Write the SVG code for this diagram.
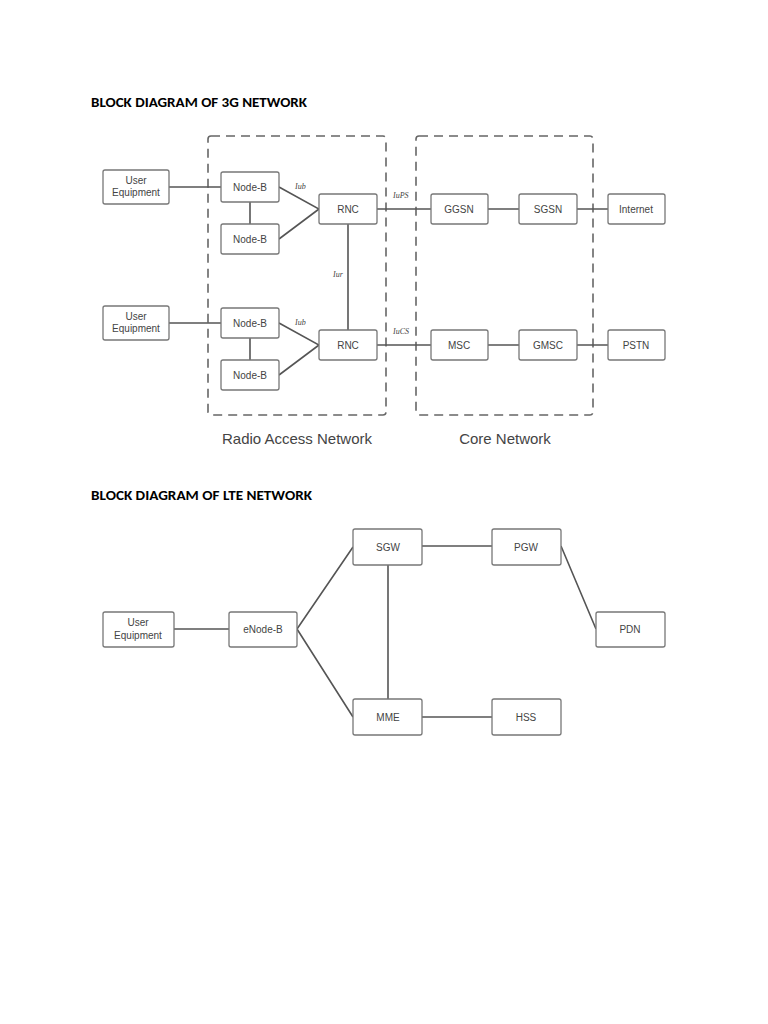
<svg xmlns="http://www.w3.org/2000/svg" width="768" height="1024" viewBox="0 0 768 1024">
<style>
.n{fill:#fff;stroke:#777;stroke-width:1.3}
.t{font-family:"Liberation Sans",Arial,sans-serif;font-size:10px;fill:#444;text-anchor:middle}
.c{stroke:#555;stroke-width:1.6;fill:none}
.d{fill:none;stroke:#666;stroke-width:1.6;stroke-dasharray:9,6}
.h{font-family:Carlito,"Liberation Sans",sans-serif;font-size:14.5px;font-weight:bold;fill:#000}
.i{font-family:"Liberation Serif",serif;font-style:italic;font-size:8px;fill:#444}
.g{font-family:"Liberation Sans",Arial,sans-serif;font-size:15px;fill:#444;text-anchor:middle}
</style>
<rect width="768" height="1024" fill="#fff"/>
<text class="h" x="91" y="107" textLength="216" lengthAdjust="spacingAndGlyphs">BLOCK DIAGRAM OF 3G NETWORK</text>
<text class="h" x="91" y="500" textLength="221" lengthAdjust="spacingAndGlyphs">BLOCK DIAGRAM OF LTE NETWORK</text>
<rect class="d" x="208" y="136" width="178" height="279" rx="3"/>
<rect class="d" x="416" y="136" width="177" height="279" rx="3"/>
<text class="g" x="297" y="444">Radio Access Network</text>
<text class="g" x="505" y="444">Core Network</text>
<g id="connectors">
<path class="c" d="M169 187H221M250 202V224M279 187L319 209L279 239M377 209H431M488 209H519M577 209H608M348 224V330"/>
<path class="c" d="M169 323H221M250 338V360M279 323L319 345L279 375M377 345H431M488 345H519M577 345H608"/>
<path class="c" d="M174 629H229M297 629L353 547M297 629L353 717M388 563V700M422 546H492M422 717H492M561 546L596 629"/>
</g>
<text class="i" x="295" y="189">Iub</text>
<text class="i" x="295" y="325">Iub</text>
<text class="i" x="333" y="277">Iur</text>
<text class="i" x="393" y="198">IuPS</text>
<text class="i" x="393" y="334">IuCS</text>
<g id="ue1"><rect class="n" x="103" y="170" width="66" height="34" rx="2"/><text class="t" x="136" y="184">User</text><text class="t" x="136" y="196">Equipment</text></g>
<g id="nb1"><rect class="n" x="221" y="172" width="58" height="30" rx="2"/><text class="t" x="250" y="191">Node-B</text></g>
<g id="nb2"><rect class="n" x="221" y="224" width="58" height="30" rx="2"/><text class="t" x="250" y="243">Node-B</text></g>
<g id="rnc1"><rect class="n" x="319" y="194" width="58" height="30" rx="2"/><text class="t" x="348" y="213">RNC</text></g>
<g id="ggsn"><rect class="n" x="431" y="194" width="57" height="30" rx="2"/><text class="t" x="459" y="213">GGSN</text></g>
<g id="sgsn"><rect class="n" x="519" y="194" width="58" height="30" rx="2"/><text class="t" x="548" y="213">SGSN</text></g>
<g id="internet"><rect class="n" x="608" y="194" width="57" height="30" rx="2"/><text class="t" x="636" y="213">Internet</text></g>
<g id="ue2"><rect class="n" x="103" y="306" width="66" height="34" rx="2"/><text class="t" x="136" y="320">User</text><text class="t" x="136" y="332">Equipment</text></g>
<g id="nb3"><rect class="n" x="221" y="308" width="58" height="30" rx="2"/><text class="t" x="250" y="327">Node-B</text></g>
<g id="nb4"><rect class="n" x="221" y="360" width="58" height="30" rx="2"/><text class="t" x="250" y="379">Node-B</text></g>
<g id="rnc2"><rect class="n" x="319" y="330" width="58" height="30" rx="2"/><text class="t" x="348" y="349">RNC</text></g>
<g id="msc"><rect class="n" x="431" y="330" width="57" height="30" rx="2"/><text class="t" x="459" y="349">MSC</text></g>
<g id="gmsc"><rect class="n" x="519" y="330" width="58" height="30" rx="2"/><text class="t" x="548" y="349">GMSC</text></g>
<g id="pstn"><rect class="n" x="608" y="330" width="57" height="30" rx="2"/><text class="t" x="636" y="349">PSTN</text></g>
<g id="ue3"><rect class="n" x="103" y="612" width="71" height="35" rx="2"/><text class="t" x="138" y="626">User</text><text class="t" x="138" y="639">Equipment</text></g>
<g id="enb"><rect class="n" x="229" y="612" width="68" height="35" rx="2"/><text class="t" x="263" y="633">eNode-B</text></g>
<g id="sgw"><rect class="n" x="353" y="529" width="69" height="36" rx="2"/><text class="t" x="388" y="551">SGW</text></g>
<g id="pgw"><rect class="n" x="492" y="529" width="69" height="36" rx="2"/><text class="t" x="526" y="551">PGW</text></g>
<g id="pdn"><rect class="n" x="596" y="612" width="69" height="35" rx="2"/><text class="t" x="630" y="633">PDN</text></g>
<g id="mme"><rect class="n" x="353" y="699" width="69" height="36" rx="2"/><text class="t" x="388" y="721">MME</text></g>
<g id="hss"><rect class="n" x="492" y="699" width="69" height="36" rx="2"/><text class="t" x="526" y="721">HSS</text></g>
</svg>
